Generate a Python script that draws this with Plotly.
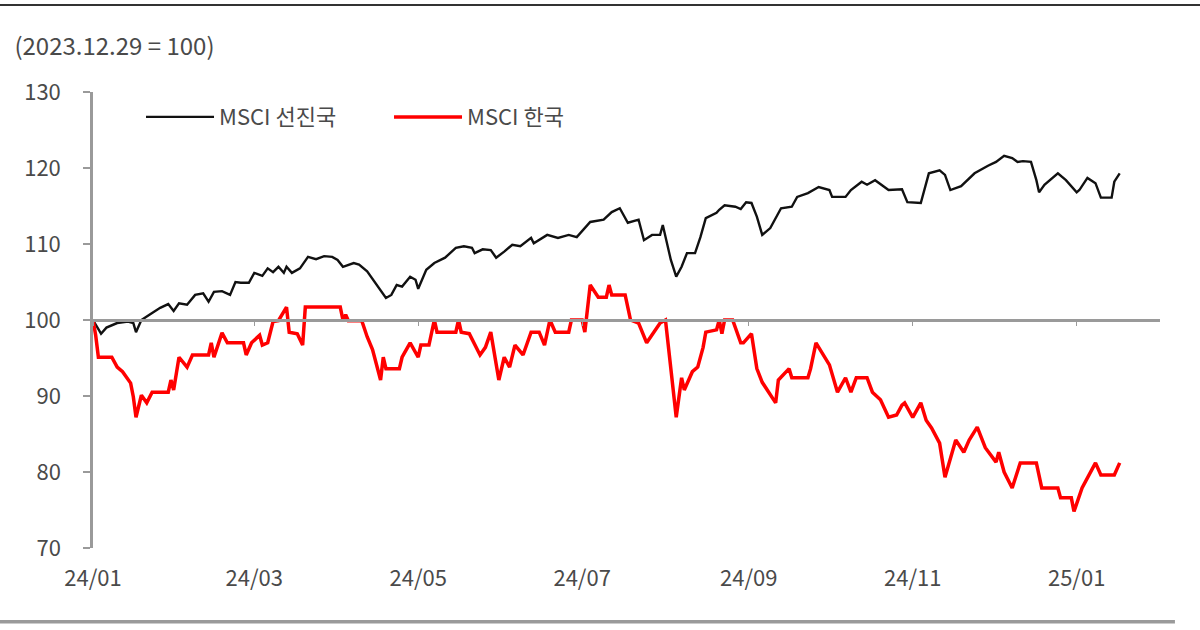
import plotly.graph_objects as go

# ---- data (index, 2023.12.29 = 100) ----
dev_dates = [
    "2024-01-01", "2024-01-04", "2024-01-06", "2024-01-10", "2024-01-14", "2024-01-16", "2024-01-17",
    "2024-01-19", "2024-01-22", "2024-01-26", "2024-01-29", "2024-01-31", "2024-02-02", "2024-02-05",
    "2024-02-08", "2024-02-11", "2024-02-13", "2024-02-15", "2024-02-18", "2024-02-21", "2024-02-23",
    "2024-02-25", "2024-02-28", "2024-03-01", "2024-03-04", "2024-03-06", "2024-03-08", "2024-03-10",
    "2024-03-12", "2024-03-13", "2024-03-15", "2024-03-18", "2024-03-21", "2024-03-24", "2024-03-27",
    "2024-03-30", "2024-04-01", "2024-04-03", "2024-04-07", "2024-04-09", "2024-04-12", "2024-04-15",
    "2024-04-19", "2024-04-21", "2024-04-23", "2024-04-25", "2024-04-28", "2024-04-30", "2024-05-01",
    "2024-05-04", "2024-05-07", "2024-05-11", "2024-05-15", "2024-05-18", "2024-05-21", "2024-05-22",
    "2024-05-25", "2024-05-28", "2024-05-30", "2024-06-02", "2024-06-05", "2024-06-08", "2024-06-12",
    "2024-06-13", "2024-06-18", "2024-06-22", "2024-06-26", "2024-06-29", "2024-07-04", "2024-07-09",
    "2024-07-12", "2024-07-15", "2024-07-18", "2024-07-22", "2024-07-24", "2024-07-27", "2024-07-30",
    "2024-07-31", "2024-08-01", "2024-08-03", "2024-08-05", "2024-08-07", "2024-08-09", "2024-08-12",
    "2024-08-14", "2024-08-16", "2024-08-20", "2024-08-21", "2024-08-23", "2024-08-27", "2024-08-29",
    "2024-08-31", "2024-09-02", "2024-09-04", "2024-09-06", "2024-09-09", "2024-09-13", "2024-09-17",
    "2024-09-19", "2024-09-23", "2024-09-27", "2024-10-01", "2024-10-02", "2024-10-07", "2024-10-09",
    "2024-10-13", "2024-10-15", "2024-10-18", "2024-10-23", "2024-10-28", "2024-10-30", "2024-11-04",
    "2024-11-07", "2024-11-11", "2024-11-13", "2024-11-15", "2024-11-19", "2024-11-24", "2024-11-29",
    "2024-12-02", "2024-12-05", "2024-12-08", "2024-12-10", "2024-12-12", "2024-12-15", "2024-12-17",
    "2024-12-18", "2024-12-20", "2024-12-25", "2024-12-28", "2025-01-01", "2025-01-02", "2025-01-05",
    "2025-01-08", "2025-01-10", "2025-01-14", "2025-01-15", "2025-01-17",
]
dev_values = [
    100.0, 98.2, 99.0, 99.6, 99.8, 99.6, 98.4,
    100.0, 100.7, 101.6, 102.1, 101.2, 102.2, 102.0,
    103.3, 103.5, 102.4, 103.7, 103.8, 103.3, 105.0,
    104.9, 104.9, 106.2, 105.8, 106.8, 106.3, 107.0,
    106.2, 107.0, 106.2, 106.8, 108.3, 108.0, 108.4,
    108.3, 107.9, 107.0, 107.5, 107.3, 106.4, 104.9,
    102.9, 103.3, 104.6, 104.4, 105.7, 105.3, 104.1,
    106.6, 107.5, 108.2, 109.5, 109.7, 109.5, 108.8,
    109.3, 109.2, 108.2, 109.0, 109.9, 109.7, 110.8,
    110.1, 111.2, 110.8, 111.2, 110.9, 112.9, 113.2,
    114.2, 114.7, 112.8, 113.2, 110.5, 111.2, 111.2,
    112.5, 110.9, 107.9, 105.7, 107.0, 108.8, 108.8,
    110.9, 113.4, 114.1, 114.5, 115.1, 114.9, 114.6,
    115.5, 115.4, 113.6, 111.2, 112.1, 114.7, 114.9,
    116.2, 116.7, 117.5, 117.1, 116.2, 116.2, 117.1,
    118.2, 117.8, 118.4, 117.1, 117.2, 115.5, 115.4,
    119.3, 119.7, 119.1, 117.1, 117.6, 119.3, 120.3,
    120.8, 121.6, 121.3, 120.8, 120.9, 120.8, 118.4,
    116.8, 117.8, 119.3, 118.4, 116.8, 117.1, 118.7,
    118.0, 116.1, 116.1, 118.2, 119.3,
]

kor_dates = [
    "2024-01-01", "2024-01-02", "2024-01-03", "2024-01-08", "2024-01-10", "2024-01-12", "2024-01-15",
    "2024-01-16", "2024-01-17", "2024-01-19", "2024-01-21", "2024-01-22", "2024-01-23", "2024-01-29",
    "2024-01-30", "2024-01-31", "2024-02-02", "2024-02-05", "2024-02-07", "2024-02-13", "2024-02-14",
    "2024-02-15", "2024-02-18", "2024-02-20", "2024-02-26", "2024-02-27", "2024-02-29", "2024-03-03",
    "2024-03-04", "2024-03-06", "2024-03-08", "2024-03-10", "2024-03-13", "2024-03-14", "2024-03-17",
    "2024-03-19", "2024-03-20", "2024-04-02", "2024-04-03", "2024-04-04", "2024-04-05", "2024-04-10",
    "2024-04-12", "2024-04-14", "2024-04-17", "2024-04-18", "2024-04-19", "2024-04-24", "2024-04-25",
    "2024-04-28", "2024-05-01", "2024-05-02", "2024-05-05", "2024-05-07", "2024-05-08", "2024-05-15",
    "2024-05-16", "2024-05-17", "2024-05-20", "2024-05-24", "2024-05-26", "2024-05-28", "2024-05-31",
    "2024-06-02", "2024-06-04", "2024-06-06", "2024-06-09", "2024-06-12", "2024-06-15", "2024-06-17",
    "2024-06-19", "2024-06-21", "2024-06-26", "2024-06-27", "2024-07-01", "2024-07-02", "2024-07-04",
    "2024-07-07", "2024-07-10", "2024-07-11", "2024-07-12", "2024-07-17", "2024-07-19", "2024-07-22",
    "2024-07-25", "2024-07-30", "2024-08-01", "2024-08-05", "2024-08-07", "2024-08-08", "2024-08-11",
    "2024-08-13", "2024-08-15", "2024-08-16", "2024-08-20", "2024-08-21", "2024-08-22", "2024-08-23",
    "2024-08-26", "2024-08-29", "2024-08-30", "2024-09-02", "2024-09-04", "2024-09-06", "2024-09-11",
    "2024-09-12", "2024-09-16", "2024-09-17", "2024-09-23", "2024-09-24", "2024-09-26", "2024-10-01",
    "2024-10-04", "2024-10-07", "2024-10-09", "2024-10-11", "2024-10-15", "2024-10-17", "2024-10-20",
    "2024-10-23", "2024-10-26", "2024-10-28", "2024-10-29", "2024-11-01", "2024-11-04", "2024-11-06",
    "2024-11-08", "2024-11-11", "2024-11-13", "2024-11-17", "2024-11-20", "2024-11-22", "2024-11-25",
    "2024-11-28", "2024-12-02", "2024-12-03", "2024-12-05", "2024-12-08", "2024-12-11", "2024-12-17",
    "2024-12-19", "2024-12-25", "2024-12-26", "2024-12-30", "2024-12-31", "2025-01-03", "2025-01-06",
    "2025-01-08", "2025-01-10", "2025-01-15", "2025-01-17",
]
kor_values = [
    100.0, 98.0, 95.1, 95.1, 93.8, 93.2, 91.7,
    89.9, 87.2, 90.1, 89.1, 89.7, 90.5, 90.5,
    92.1, 90.8, 95.1, 93.8, 95.4, 95.4, 97.0,
    95.1, 98.3, 97.0, 97.0, 95.4, 97.0, 98.0,
    96.7, 97.0, 99.8, 99.9, 101.7, 98.4, 98.2,
    96.7, 101.7, 101.7, 100.0, 100.7, 99.9, 99.9,
    97.8, 96.1, 92.1, 95.1, 93.6, 93.6, 95.1,
    97.0, 95.1, 96.7, 96.7, 100.0, 98.4, 98.4,
    100.0, 98.4, 98.2, 95.4, 96.4, 98.4, 92.1,
    95.1, 93.8, 96.7, 95.4, 98.4, 98.4, 96.7,
    100.0, 98.4, 98.4, 100.0, 100.0, 98.4, 104.6,
    103.0, 103.0, 104.6, 103.3, 103.3, 100.0, 99.6,
    97.0, 99.6, 100.0, 87.2, 92.4, 90.8, 93.2,
    93.8, 96.4, 98.4, 98.7, 100.0, 98.2, 100.0,
    100.0, 97.0, 97.0, 98.2, 93.6, 91.8, 89.1,
    92.1, 93.6, 92.4, 92.4, 93.6, 97.0, 94.1,
    90.5, 92.4, 90.5, 92.4, 92.4, 90.5, 89.5,
    87.2, 87.5, 88.8, 89.1, 87.2, 89.1, 86.8,
    85.8, 83.8, 79.3, 84.2, 82.6, 84.2, 85.9,
    83.2, 81.3, 82.6, 80.0, 77.9, 81.2, 81.2,
    77.9, 77.9, 76.6, 76.6, 74.8, 77.9, 79.9,
    81.2, 79.6, 79.6, 81.2,
]

series_names = ["MSCI 선진국", "MSCI 한국"]
x_tickvals = ["2024-01-01", "2024-03-01", "2024-05-01", "2024-07-01", "2024-09-01", "2024-11-01", "2025-01-01"]
x_ticktext = ["24/01", "24/03", "24/05", "24/07", "24/09", "24/11", "25/01"]
x_range = ["2024-01-01", "2025-02-01"]
y_tickvals = [70, 80, 90, 100, 110, 120, 130]
base_line = 100
unit_label = "(2023.12.29 = 100)"

FONT = "Noto Sans CJK KR, Noto Sans, sans-serif"
TXT = "#4a4a4a"
AXIS = "#9a9a9a"

fig = go.Figure()
fig.add_trace(go.Scatter(x=dev_dates, y=dev_values, name=series_names[0], mode="lines",
                         line=dict(color="#111111", width=2.4)))
fig.add_trace(go.Scatter(x=kor_dates, y=kor_values, name=series_names[1], mode="lines",
                         line=dict(color="#ff0000", width=3.5)))

fig.update_layout(
    width=1200, height=630,
    margin=dict(l=93, r=40, t=92, b=82),
    paper_bgcolor="white", plot_bgcolor="white",
    font=dict(family=FONT, size=22, color=TXT),
    showlegend=True,
    legend=dict(orientation="h", x=0.045, y=0.945, xanchor="left", yanchor="middle",
                bgcolor="rgba(0,0,0,0)", font=dict(size=22, color=TXT),
                entrywidth=165, entrywidthmode="pixels", itemwidth=68),
    title=dict(text=unit_label, x=0.012, xanchor="left", y=1 - 47 / 630, yanchor="middle",
               font=dict(size=24, color=TXT, family=FONT)),
    xaxis=dict(type="date", range=x_range, tickvals=x_tickvals, ticktext=x_ticktext,
               showgrid=False, zeroline=False, showline=False, ticks="",
               ticklabelstandoff=15, tickfont=dict(size=22, color=TXT)),
    xaxis2=dict(type="date", range=x_range, tickvals=x_tickvals, overlaying="x",
                anchor="free", position=0.5, side="bottom",
                showline=True, linecolor=AXIS, linewidth=2.5,
                ticks="outside", ticklen=4, tickwidth=1, tickcolor=AXIS,
                showticklabels=False, showgrid=False, zeroline=False),
    yaxis=dict(range=[70, 130], tickvals=y_tickvals, showgrid=False, zeroline=False,
               showline=True, linecolor=AXIS, linewidth=2.5,
               ticks="outside", ticklen=7, tickwidth=1.5, tickcolor=AXIS,
               ticklabelstandoff=18, tickfont=dict(size=22, color=TXT)),
)

# invisible trace that activates xaxis2 (the 100 baseline axis)
fig.add_trace(go.Scatter(x=[x_range[0]], y=[base_line], xaxis="x2", mode="lines",
                         showlegend=False, hoverinfo="skip", line=dict(width=0)))

# frame lines of the figure box
fig.add_shape(type="line", xref="paper", yref="paper", x0=-0.09, x1=1.04, y0=1.191, y1=1.191,
              line=dict(color="#333333", width=2))
fig.add_shape(type="line", xref="paper", yref="paper", x0=-0.09, x1=1.014, y0=-0.162, y1=-0.162,
              line=dict(color="#9a9a9a", width=3.5))

fig.write_html("out.html", config={"displayModeBar": False},
               post_script="document.body.style.margin='0';")
